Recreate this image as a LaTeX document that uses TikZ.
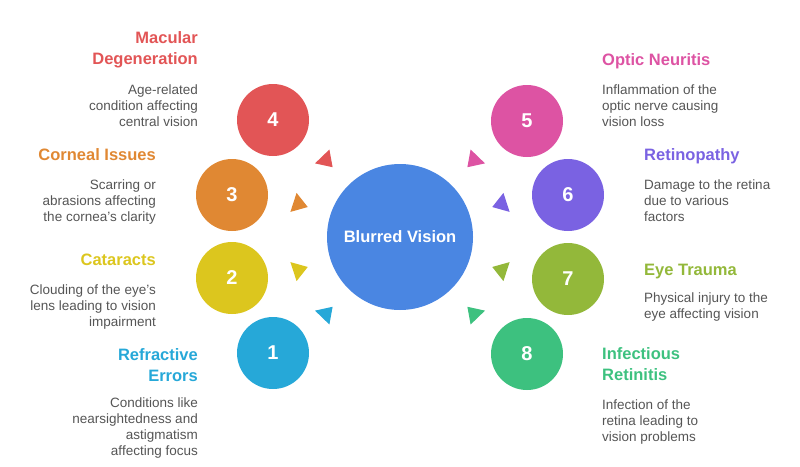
\documentclass[tikz,border=0pt]{standalone}
\usepackage{fontspec}
\setmainfont{Liberation Sans}
\usetikzlibrary{calc}
\definecolor{cRed}{HTML}{E25556}
\definecolor{cOrange}{HTML}{E08833}
\definecolor{cYellow}{HTML}{DCC61E}
\definecolor{cBlue}{HTML}{26A8D8}
\definecolor{cPink}{HTML}{DD53A3}
\definecolor{cPurple}{HTML}{7A62E2}
\definecolor{cOlive}{HTML}{93B83A}
\definecolor{cGreen}{HTML}{3DC17F}
\definecolor{cCenter}{HTML}{4A86E2}
\definecolor{bodygray}{HTML}{555555}
\begin{document}
\begin{tikzpicture}[x=1pt,y=-1pt,
  numc/.style={circle, minimum size=72pt, inner sep=0pt, text=white, font=\fontsize{20}{20}\selectfont\bfseries},
  head/.style={font=\fontsize{16.5}{20.5}\selectfont\bfseries, inner sep=0pt},
  bodyt/.style={font=\fontsize{13.5}{15.7}\selectfont, text=bodygray, inner sep=0pt},
  lhead/.style={head, anchor=base east, align=right},
  rhead/.style={head, anchor=base west, align=left},
  lbody/.style={bodyt, anchor=base east, align=right},
  rbody/.style={bodyt, anchor=base west, align=left}]
\useasboundingbox (0,0) rectangle (800,466);
\newcommand{\arrtri}[2]{\fill[#2] ($(C)+(#1:97)$) -- ($(C)+(#1:112)+(#1+90:10)$) -- ($(C)+(#1:112)+(#1-90:10)$) -- cycle;}
% center
\node[circle, fill=cCenter, minimum size=146pt, inner sep=0pt, text=white, font=\fontsize{16.5}{20}\selectfont\bfseries] (C) at (400,237) {Blurred Vision};
% numbered circles
\node[numc, fill=cRed] (n4) at (273,120) {4};
\node[numc, fill=cOrange] (n3) at (232,195) {3};
\node[numc, fill=cYellow] (n2) at (232,278) {2};
\node[numc, fill=cBlue] (n1) at (273,353) {1};
\node[numc, fill=cPink] (n5) at (527,121) {5};
\node[numc, fill=cPurple] (n6) at (568,195) {6};
\node[numc, fill=cOlive] (n7) at (568,279) {7};
\node[numc, fill=cGreen] (n8) at (527,354) {8};
% triangles
\arrtri{-134}{cRed}
\arrtri{-162}{cOrange}
\arrtri{162}{cYellow}
\arrtri{134}{cBlue}
\arrtri{-46}{cPink}
\arrtri{-18}{cPurple}
\arrtri{18}{cOlive}
\arrtri{46}{cGreen}
% left texts (anchor at baseline of last line)
\node[lhead, text=cRed] (h4) at (198,64) {Macular\\Degeneration};
\node[lbody] (b4) at (198,126) {Age-related\\condition affecting\\central vision};
\node[lhead, text=cOrange] (h3) at (156,160) {Corneal Issues};
\node[lbody] (b3) at (156,221) {Scarring or\\abrasions affecting\\the cornea's clarity};
\node[lhead, text=cYellow] (h2) at (156,265) {Cataracts};
\node[lbody] (b2) at (156,326) {Clouding of the eye's\\lens leading to vision\\impairment};
\node[lhead, text=cBlue] (h1) at (198,381) {Refractive\\Errors};
\node[lbody] (b1) at (198,455) {Conditions like\\nearsightedness and\\astigmatism\\affecting focus};
% right texts
\node[rhead, text=cPink] (h5) at (602,65) {Optic Neuritis};
\node[rbody] (b5) at (602,126) {Inflammation of the\\optic nerve causing\\vision loss};
\node[rhead, text=cPurple] (h6) at (644,160) {Retinopathy};
\node[rbody] (b6) at (644,221) {Damage to the retina\\due to various\\factors};
\node[rhead, text=cOlive] (h7) at (644,275) {Eye Trauma};
\node[rbody] (b7) at (644,318) {Physical injury to the\\eye affecting vision};
\node[rhead, text=cGreen] (h8) at (602,380) {Infectious\\Retinitis};
\node[rbody] (b8) at (602,441) {Infection of the\\retina leading to\\vision problems};
\end{tikzpicture}
\end{document}
